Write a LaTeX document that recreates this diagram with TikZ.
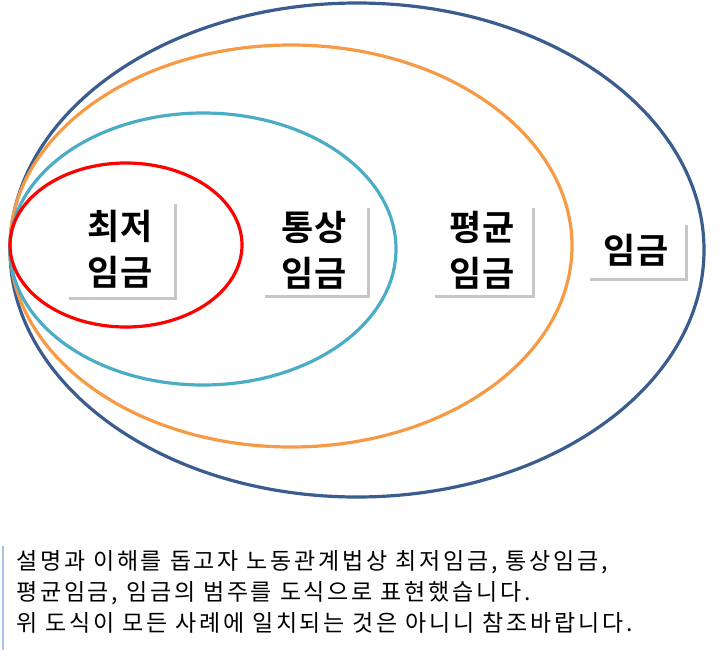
\documentclass[tikz,border=0pt]{standalone}
\usepackage{fontspec}
\newfontfamily\kr[LetterSpace=12]{Noto Sans CJK KR}
\newfontfamily\krb{Noto Sans CJK KR Bold}
\usetikzlibrary{shadows}
\definecolor{outerb}{HTML}{3B5C8E}
\definecolor{orng}{HTML}{F79A46}
\definecolor{tealc}{HTML}{4BACC6}
\definecolor{lblue}{HTML}{A9C4EB}
\tikzset{
  ring/.style={line width=3.2pt},
  lab/.style={fill=white, drop shadow={shadow xshift=3pt,shadow yshift=-3pt,opacity=0.45,fill=gray}, font=\krb\fontsize{35}{46}\selectfont, align=center, inner sep=0pt},
  captext/.style={font=\kr\fontsize{23}{31}\selectfont, align=left, anchor=north west, inner sep=0pt}
}
\begin{document}
\begin{tikzpicture}[x=1pt,y=-1pt]
\useasboundingbox (0,0) rectangle (721,659);
\draw[ring, outerb] (357,250) ellipse [x radius=347, y radius=247];
\draw[ring, orng] (291,246) ellipse [x radius=281, y radius=201];
\draw[ring, tealc] (203,249) ellipse [x radius=193, y radius=136];
\draw[ring, red] (126,245) ellipse [x radius=116, y radius=82];
\node[lab, minimum width=108pt, minimum height=96pt] (a) at (120,249) {최저\\임금};
\node[lab, minimum width=105pt, minimum height=90pt] (b) at (314,250) {통상\\임금};
\node[lab, minimum width=100pt, minimum height=90pt] (c) at (482,250) {평균\\임금};
\node[lab, minimum width=98pt, minimum height=56pt] (d) at (636,250) {임금};
\draw[lblue, line width=1.5pt] (3,546) -- (3,650);
\node[captext] (t) at (16,550) {설명과 이해를 돕고자 노동관계법상 최저임금, 통상임금,\\평균임금, 임금의 범주를 도식으로 표현했습니다.\\위 도식이 모든 사례에 일치되는 것은 아니니 참조바랍니다.};
\end{tikzpicture}
\end{document}
